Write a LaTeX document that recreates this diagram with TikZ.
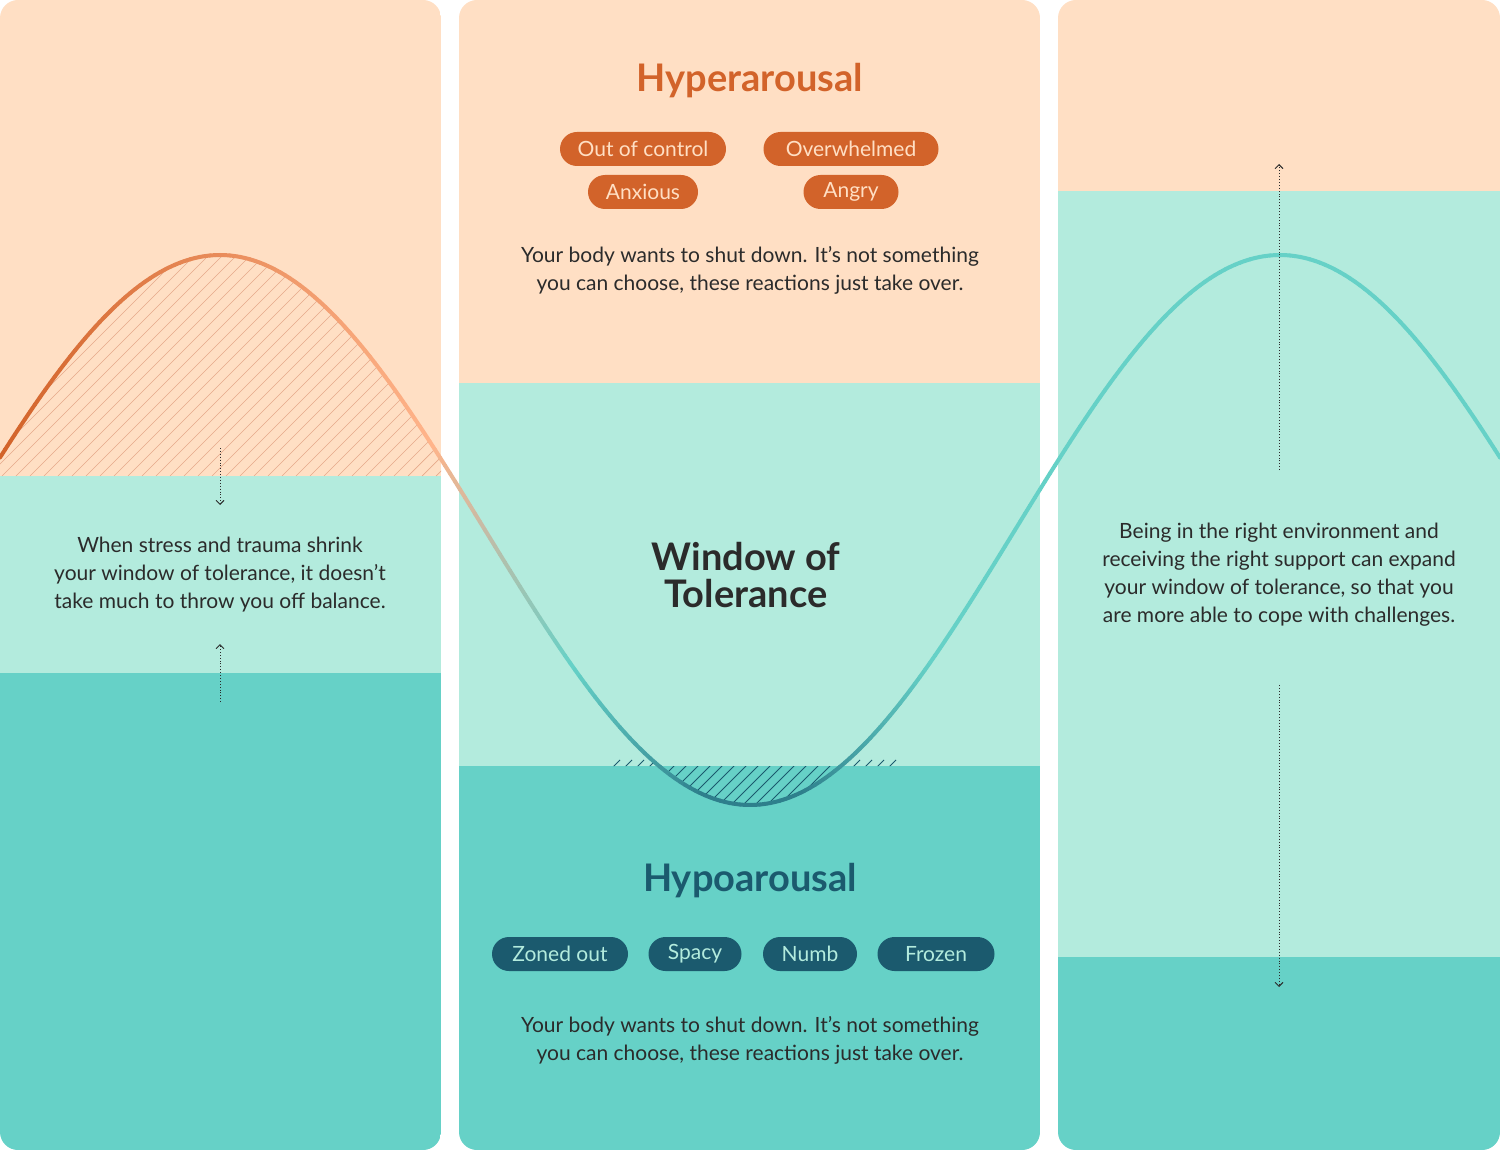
\documentclass[tikz,border=0pt]{standalone}
\usepackage{fontspec}
\setmainfont{Lato}
\usetikzlibrary{arrows.meta}
\definecolor{peach}{HTML}{FFDFC4}
\definecolor{lteal}{HTML}{B3EBDD}
\definecolor{teal}{HTML}{66D1C7}
\definecolor{orng}{HTML}{D2632A}
\definecolor{peachline}{HTML}{FFB48A}
\definecolor{midline}{HTML}{C8BBA5}
\definecolor{dteal}{HTML}{1B5A6E}
\definecolor{darkline}{HTML}{2E7F8C}
\definecolor{txt}{HTML}{2B2B2B}
\tikzset{
 pillH/.style={fill=orng,text=peach,rounded corners=17pt,minimum height=34pt,inner sep=0pt,font=\fontsize{21}{24}\selectfont},
 pillL/.style={fill=dteal,text=lteal,rounded corners=17pt,minimum height=34pt,inner sep=0pt,font=\fontsize{21}{24}\selectfont},
 body/.style={text=txt,align=center,font=\fontsize{21}{28}\selectfont},
 darr/.style={dotted,line width=0.9pt,txt,-{Straight Barb[length=4pt,width=8pt,line width=0.9pt]}},
 declare function={f(\x)=530-275*cos(0.3396226*(\x-220));}
}
\newcommand\curveseg[4]{%
 \foreach \xx in {#1,\the\numexpr#1+5\relax,...,\the\numexpr#2-5\relax}{%
  \pgfmathsetmacro\pp{(\xx-#1)/(#2-#1)*100}%
  \draw[line width=4pt,line cap=round,color=#4!\pp!#3] plot[domain=\xx:\xx+5,samples=3] (\x,{f(\x)});
 }}
\begin{document}
\begin{tikzpicture}[x=1pt,y=-1pt]
\useasboundingbox (0,0) rectangle (1500,1150);
% panels
\begin{scope}
\clip[rounded corners=18pt] (0,0) rectangle (441,1150);
\fill[peach] (0,0) rectangle (441,476);
\fill[lteal] (0,476) rectangle (441,673);
\fill[teal] (0,673) rectangle (441,1150);
\clip plot[domain=0:441,samples=80] (\x,{f(\x)}) -- (441,476) -- (0,476) -- cycle;
\foreach \k in {-600,-586,...,600} \draw[orng!55,line width=0.7pt] (\k,476) -- ++(300,-300);
\end{scope}
\begin{scope}
\clip[rounded corners=18pt] (459,0) rectangle (1040,1150);
\fill[peach] (459,0) rectangle (1040,383);
\fill[lteal] (459,383) rectangle (1040,766);
\fill[teal] (459,766) rectangle (1040,1150);
\clip plot[domain=600:900,samples=60] (\x,{f(\x)}) -- (900,766) -- (600,766) -- cycle;
\foreach \k in {560,572,...,900} \draw[dteal,line width=0.9pt] (\k,820) -- ++(60,-60);
\end{scope}
\begin{scope}
\clip[rounded corners=18pt] (1058,0) rectangle (1500,1150);
\fill[peach] (1058,0) rectangle (1500,191);
\fill[lteal] (1058,191) rectangle (1500,957);
\fill[teal] (1058,957) rectangle (1500,1150);
\end{scope}
% curve
\curveseg{0}{430}{orng}{peachline}
\curveseg{430}{480}{peachline}{midline}
\curveseg{480}{570}{midline}{teal}
\curveseg{570}{700}{teal}{darkline}
\curveseg{700}{800}{darkline}{darkline}
\curveseg{800}{930}{darkline}{teal}
\curveseg{930}{1500}{teal}{teal}
% arrows
\coordinate (a1) at (220,448); \coordinate (a2) at (220,505);
\coordinate (b1) at (220,702); \coordinate (b2) at (220,644);
\coordinate (c1) at (1279,470); \coordinate (c2) at (1279,164);
\coordinate (d1) at (1279,685); \coordinate (d2) at (1279,987);
\draw[darr] (a1) -- (a2);
\draw[darr] (b1) -- (b2);
\draw[darr] (c1) -- (c2);
\draw[darr] (d1) -- (d2);
% texts
\node[text=orng,font=\fontsize{38}{40}\selectfont\bfseries] (hyper) at (750,81) {Hyperarousal};
\node[pillH,minimum width=166pt] (p1) at (643,149) {Out of control};
\node[pillH,minimum width=175pt] (p2) at (851,149) {Overwhelmed};
\node[pillH,minimum width=110pt] (p3) at (643,192) {Anxious};
\node[pillH,minimum width=95pt] (p4) at (851,192) {Angry};
\node[body] (t1) at (750,270) {Your body wants to shut down. It’s not something\\you can choose, these reactions just take over.};
\node[text=txt,align=center,font=\fontsize{38}{37}\selectfont\bfseries] (wot) at (746,575) {Window of\\Tolerance};
\node[text=dteal,font=\fontsize{38}{40}\selectfont\bfseries] (hypo) at (750,881) {Hypoarousal};
\node[pillL,minimum width=136pt] (q1) at (560,954) {Zoned out};
\node[pillL,minimum width=93pt] (q2) at (695,954) {Spacy};
\node[pillL,minimum width=94pt] (q3) at (810,954) {Numb};
\node[pillL,minimum width=117pt] (q4) at (936,954) {Frozen};
\node[body] (t2) at (750,1040) {Your body wants to shut down. It’s not something\\you can choose, these reactions just take over.};
\node[body] (t3) at (220,575) {When stress and trauma shrink\\your window of tolerance, it doesn’t\\take much to throw you off balance.};
\node[body] (t4) at (1279,575) {Being in the right environment and\\receiving the right support can expand\\your window of tolerance, so that you\\are more able to cope with challenges.};
\end{tikzpicture}
\end{document}
